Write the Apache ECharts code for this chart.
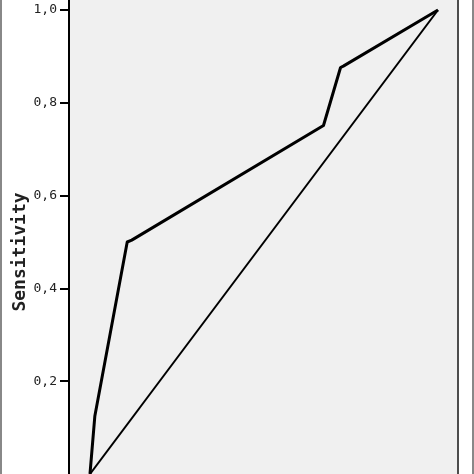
<!DOCTYPE html>
<html>
<head>
<meta charset="utf-8">
<script src="https://cdn.jsdelivr.net/npm/echarts@6/dist/echarts.min.js"></script>
<style>
  html, body { margin: 0; padding: 0; background: #fff; }
  #chartRoc { width: 474px; height: 474px; }
</style>
</head>
<body>
<div id="chartRoc"></div>
<script>
// ROC curve points (1 - specificity, sensitivity)
var rocFpr = [0, 0.014, 0.107, 0.12, 0.671, 0.72, 0.728, 1]
var rocTpr = [0, 0.125, 0.5, 0.504, 0.751, 0.876, 0.879, 1]
// reference diagonal
var refFpr = [0, 1]
var refTpr = [0, 1]
// y tick values
var yTicks = [0.2, 0.4, 0.6, 0.8, 1.0]

function pairs (xs, ys) {
  return xs.map(function (x, i) { return [x, ys[i]] })
}

var chartRoc = echarts.init(document.getElementById('chartRoc'))
var option = {
  backgroundColor: '#fff',
  animation: false,
  grid: {
    left: 69,
    right: 16,
    top: 0,
    bottom: 0,
    show: true,
    backgroundColor: '#f0f0f0',
    borderWidth: 0
  },
  xAxis: {
    type: 'value',
    min: -0.0603,
    max: 1.0575,
    show: false
  },
  yAxis: {
    type: 'value',
    min: 0,
    max: 1.0215,
    name: 'Sensitivity',
    nameLocation: 'middle',
    nameGap: 40,
    nameMoveOverlap: false,
    nameTextStyle: {
      fontFamily: 'DejaVu Sans Mono',
      fontWeight: 'bold',
      fontSize: 18,
      color: '#222',
      padding: [0, 30, 0, 0]
    },
    axisLine: { show: true, onZero: false, lineStyle: { color: '#000', width: 2 } },
    axisTick: { show: true, inside: false, length: 9, customValues: yTicks, lineStyle: { color: '#000', width: 2 } },
    axisLabel: {
      inside: false,
      margin: 12,
      customValues: yTicks,
      fontFamily: 'DejaVu Sans Mono',
      fontSize: 13,
      color: '#222',
      formatter: function (v) { return v.toFixed(1).replace('.', ',') }
    },
    splitLine: { show: false }
  },
  graphic: [
    { type: 'rect', shape: { x: 0, y: 0, width: 2, height: 474 }, style: { fill: '#888' } },
    { type: 'rect', shape: { x: 457, y: 0, width: 2, height: 474 }, style: { fill: '#4d4d4d' } },
    { type: 'rect', shape: { x: 472, y: 0, width: 2, height: 474 }, style: { fill: '#888' } }
  ],
  series: [
    {
      type: 'line',
      data: pairs(refFpr, refTpr),
      showSymbol: false,
      lineStyle: { color: '#000', width: 2 }
    },
    {
      type: 'line',
      data: pairs(rocFpr, rocTpr),
      showSymbol: false,
      lineStyle: { color: '#000', width: 3, join: 'round' }
    }
  ]
}
chartRoc.setOption(option)
</script>
</body>
</html>
